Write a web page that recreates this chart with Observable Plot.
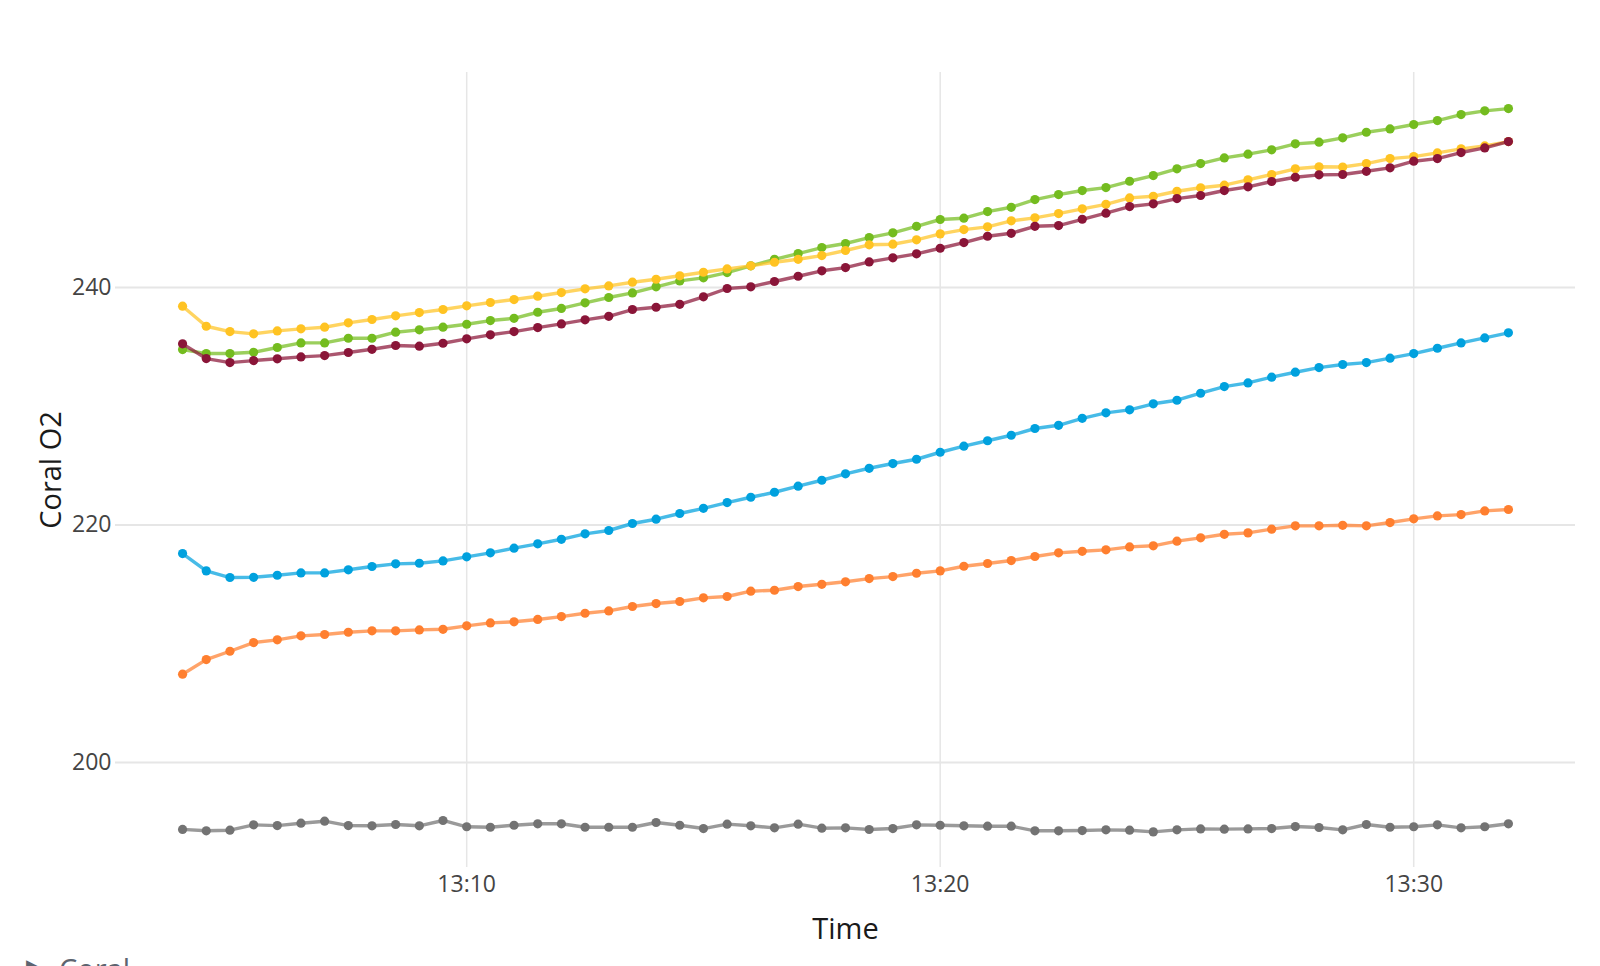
<!DOCTYPE html>
<html><head><meta charset="utf-8">
<script src="https://cdn.jsdelivr.net/npm/d3@7"></script>
<script src="https://cdn.jsdelivr.net/npm/@observablehq/plot@0.6"></script>
<style>
html,body{margin:0;padding:0;background:#fff;overflow:hidden;}
#wrap{position:relative;width:1600px;height:966px;overflow:hidden;}
#legend{position:absolute;left:26px;top:954px;font-family:"Open Sans",sans-serif;font-size:29px;line-height:1;color:#5d6570;white-space:nowrap;}
#legend .tog{display:inline-block;margin-right:18px;position:relative;top:-5px;}
</style></head><body>
<div id="wrap"><div id="chart"></div><div id="legend"><span class="tog">▸</span>Coral</div></div>
<script>
const times = ["13:04:00","13:04:30","13:05:00","13:05:30","13:06:00","13:06:30","13:07:00","13:07:30","13:08:00","13:08:30",
"13:09:00","13:09:30","13:10:00","13:10:30","13:11:00","13:11:30","13:12:00","13:12:30","13:13:00","13:13:30",
"13:14:00","13:14:30","13:15:00","13:15:30","13:16:00","13:16:30","13:17:00","13:17:30","13:18:00","13:18:30",
"13:19:00","13:19:30","13:20:00","13:20:30","13:21:00","13:21:30","13:22:00","13:22:30","13:23:00","13:23:30",
"13:24:00","13:24:30","13:25:00","13:25:30","13:26:00","13:26:30","13:27:00","13:27:30","13:28:00","13:28:30",
"13:29:00","13:29:30","13:30:00","13:30:30","13:31:00","13:31:30","13:32:00"];

const seriesNames = ["Control","Coral 1","Coral 2","Coral 3","Coral 4","Coral 5"];
const seriesColors = ["#737373","#ff7f2f","#00a1de","#74bc1f","#ffc322","#8a1538"];

const control = [194.37,194.25,194.30,194.75,194.69,194.89,195.06,194.69,194.67,194.78,194.67,195.12,194.59,194.55,194.72,194.84,194.84,194.55,194.55,194.55,
194.95,194.72,194.44,194.81,194.67,194.50,194.81,194.47,194.50,194.36,194.44,194.75,194.72,194.67,194.64,194.64,194.25,194.25,194.27,194.33,
194.30,194.16,194.33,194.41,194.39,194.41,194.44,194.61,194.53,194.33,194.78,194.55,194.59,194.75,194.50,194.59,194.84];
const coral1 = [207.44,208.67,209.37,210.10,210.33,210.67,210.78,210.97,211.09,211.09,211.17,211.22,211.51,211.76,211.85,212.05,212.29,212.57,212.77,213.14,
213.39,213.56,213.87,213.98,214.43,214.51,214.82,215.01,215.22,215.49,215.66,215.94,216.14,216.53,216.76,217.01,217.35,217.66,217.79,217.91,
218.16,218.25,218.64,218.92,219.22,219.34,219.65,219.93,219.93,219.98,219.93,220.21,220.52,220.77,220.88,221.19,221.31];
const coral2 = [217.60,216.14,215.58,215.60,215.77,215.97,215.97,216.23,216.51,216.73,216.78,216.98,217.32,217.66,218.05,218.42,218.80,219.26,219.54,220.13,
220.49,220.97,221.41,221.89,222.34,222.76,223.27,223.77,224.31,224.78,225.18,225.54,226.13,226.64,227.10,227.56,228.13,228.40,228.99,229.45,
229.70,230.21,230.51,231.10,231.66,231.97,232.45,232.87,233.26,233.52,233.68,234.05,234.44,234.89,235.34,235.76,236.19];
const coral3 = [234.78,234.44,234.44,234.55,234.95,235.34,235.34,235.73,235.73,236.24,236.44,236.66,236.91,237.22,237.41,237.92,238.24,238.71,239.16,239.55,
240.06,240.56,240.82,241.26,241.83,242.38,242.86,243.37,243.71,244.21,244.61,245.16,245.73,245.84,246.40,246.76,247.41,247.83,248.17,248.42,
248.95,249.43,250.00,250.44,250.92,251.23,251.60,252.10,252.24,252.61,253.08,253.36,253.73,254.06,254.57,254.88,255.07];
const coral4 = [238.43,236.74,236.29,236.10,236.35,236.52,236.66,237.03,237.31,237.62,237.89,238.15,238.46,238.74,238.99,239.27,239.58,239.89,240.14,240.45,
240.70,240.99,241.29,241.57,241.83,242.13,242.38,242.69,243.12,243.60,243.65,244.02,244.52,244.88,245.11,245.62,245.87,246.23,246.63,247.01,
247.55,247.69,248.11,248.40,248.62,249.07,249.52,250.00,250.17,250.15,250.44,250.86,251.03,251.34,251.68,251.93,252.29];
const coral5 = [235.26,234.02,233.68,233.85,234.00,234.16,234.27,234.53,234.80,235.12,235.06,235.31,235.68,236.02,236.29,236.63,236.94,237.28,237.58,238.15,
238.34,238.59,239.22,239.92,240.06,240.51,240.95,241.41,241.68,242.16,242.50,242.84,243.31,243.79,244.32,244.57,245.16,245.22,245.75,246.26,
246.82,247.05,247.49,247.75,248.17,248.48,248.93,249.29,249.49,249.52,249.79,250.08,250.64,250.86,251.37,251.76,252.29];

const xTickLabels = ["13:10:00","13:20:00","13:30:00"];
const yTicks = [200, 220, 240];
const xDomain = ["13:02:35","13:33:25"];
const yDomain = [191.16, 258.11];

const parse = t => new Date(`2020-01-01T${t}Z`);
const seriesValues = [control, coral1, coral2, coral3, coral4, coral5];

const seriesMarks = [];
seriesValues.forEach((vals, s) => {
  const rows = vals.map((v, i) => ({time: parse(times[i]), value: v, series: seriesNames[s]}));
  seriesMarks.push(Plot.line(rows, {x: "time", y: "value", stroke: seriesColors[s], strokeWidth: 3.4, strokeOpacity: 0.72, curve: "linear"}));
  seriesMarks.push(Plot.dot(rows, {x: "time", y: "value", fill: seriesColors[s], r: 4.6, stroke: "none"}));
});

const xTicks = xTickLabels.map(parse);
const chart = Plot.plot({
  width: 1600, height: 966,
  marginTop: 72, marginBottom: 99, marginLeft: 115, marginRight: 25,
  style: {fontFamily: '"Open Sans", sans-serif', fontSize: "23px", color: "#444", background: "#fff"},
  x: {type: "utc", domain: xDomain.map(parse)},
  y: {domain: yDomain},
  marks: [
    Plot.gridX(xTicks, {stroke: "#e6e6e6", strokeOpacity: 1, strokeWidth: 1.5}),
    Plot.gridY(yTicks, {stroke: "#e6e6e6", strokeOpacity: 1, strokeWidth: 2}),
    Plot.axisX(xTicks, {tickSize: 0, tickPadding: 8, tickFormat: d3.utcFormat("%H:%M"), label: null, fontSize: 23, fill: "#444"}),
    Plot.axisY(yTicks, {tickSize: 0, tickPadding: 4, label: null, fontSize: 23, fill: "#444"}),
    ...seriesMarks,
    Plot.text(["Time"], {frameAnchor: "bottom", dy: 62, lineAnchor: "middle", fontSize: 29, fill: "#1a1a1a"}),
    Plot.text(["Coral O2"], {frameAnchor: "left", dx: -64, rotate: -90, textAnchor: "middle", lineAnchor: "middle", fontSize: 29, fill: "#1a1a1a"})
  ]
});
document.getElementById("chart").appendChild(chart);
</script>
</body></html>
